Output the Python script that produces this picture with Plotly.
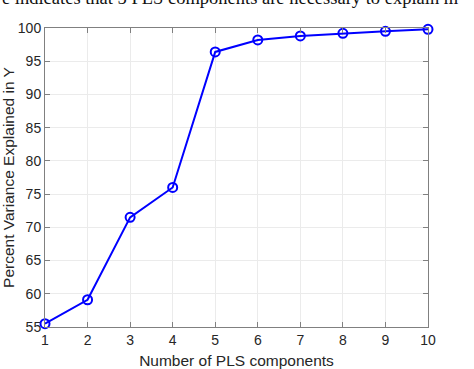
import plotly.graph_objects as go

components = [1, 2, 3, 4, 5, 6, 7, 8, 9, 10]
variance = [55.5, 59.1, 71.5, 76.0, 96.4, 98.2, 98.8, 99.2, 99.5, 99.8]
x_ticks = [1, 2, 3, 4, 5, 6, 7, 8, 9, 10]
y_ticks = [55, 60, 65, 70, 75, 80, 85, 90, 95, 100]
caption = "e indicates that 5 PLS components are necessary to explain m"

fig = go.Figure()
fig.add_trace(go.Scatter(
    x=components, y=variance, mode="lines+markers",
    line=dict(color="#0000ff", width=2),
    marker=dict(symbol="circle-open", size=9, color="#0000ff", line=dict(width=2)),
    cliponaxis=False, showlegend=False,
))

axis_common = dict(
    showline=True, linecolor="#808080", linewidth=1, mirror="ticks",
    ticks="inside", ticklen=5, tickcolor="#808080",
    showgrid=True, gridcolor="#ebebeb", gridwidth=1, zeroline=False,
    tickfont=dict(family="Liberation Sans, Arial", size=14, color="#262626"),
)

fig.update_xaxes(range=[1, 10], tickvals=x_ticks,
                 title=dict(text="Number of PLS components", standoff=8,
                            font=dict(family="Liberation Sans, Arial", size=15.5, color="#262626")),
                 automargin=False, **axis_common)
fig.update_yaxes(range=[55, 100], tickvals=y_ticks,
                 title=dict(text="Percent Variance Explained in Y", standoff=4,
                            font=dict(family="Liberation Sans, Arial", size=15.5, color="#262626")),
                 automargin=False, **axis_common)

fig.add_annotation(text=caption, xref="paper", yref="paper", x=-0.118, y=1.0,
                   xanchor="left", yanchor="bottom", yshift=18, showarrow=False,
                   font=dict(family="Liberation Serif, Times New Roman", size=18.5, color="#111111"))

fig.update_layout(width=474, height=369, margin=dict(l=45, r=46, t=28, b=42),
                  plot_bgcolor="white", paper_bgcolor="white")
fig.write_html("out.html")
